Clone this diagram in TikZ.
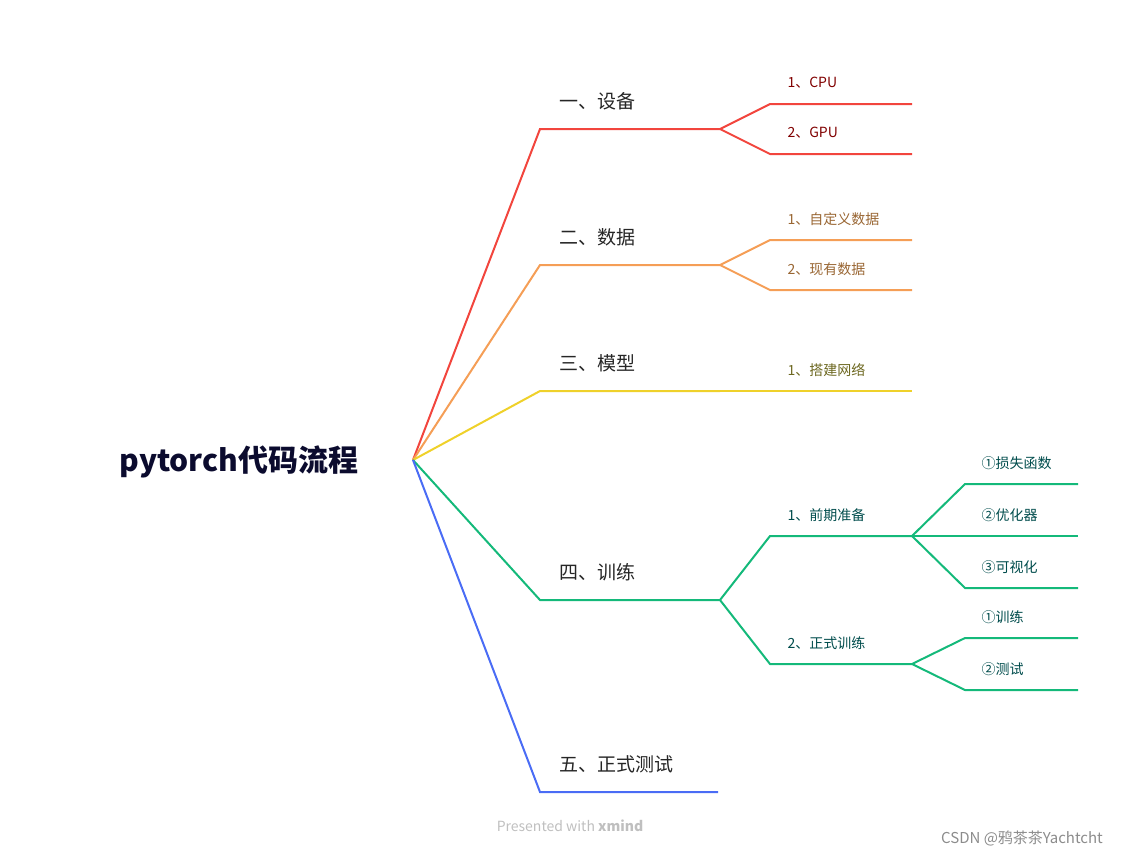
\documentclass[tikz,border=0pt]{standalone}
\usepackage{fontspec}
\setmainfont{Noto Sans CJK SC}
\definecolor{cred}{HTML}{F2453D}
\definecolor{corange}{HTML}{F59E56}
\definecolor{cyellow}{HTML}{EFD12A}
\definecolor{cgreen}{HTML}{14B97A}
\definecolor{cblue}{HTML}{4A6CF5}
\definecolor{troot}{HTML}{0B0B2E}
\begin{document}
\begin{tikzpicture}[x=1pt,y=-1pt,
  br/.style={line width=2pt},
  l1/.style={anchor=west,font=\fontsize{19}{20}\selectfont,text=black!85},
  l2/.style={anchor=west,font=\fontsize{14}{16}\selectfont},
  curve/.style={to path={.. controls ($(\tikztostart)!0.5!(\tikztotarget)$ |- \tikztostart) and ($(\tikztostart)!0.5!(\tikztotarget)$ |- \tikztotarget) .. (\tikztotarget)}}]
\usetikzlibrary{calc}
\useasboundingbox (0,0) rectangle (1142,857);
\node[font=\fontsize{30}{32}\selectfont\bfseries,text=troot] (root) at (239,462) {pytorch代码流程};
\coordinate (r) at (413,460);
% level 1
\foreach \n/\y/\c/\t in {a/129/cred/一、设备, b/265/corange/二、数据, c/391/cyellow/三、模型, d/600/cgreen/四、训练}{
  \coordinate (\n s) at (540,\y); \coordinate (\n e) at (720,\y);
  \draw[br,\c] (r) to[curve] (\n s) -- (\n e);
  \node[l1] (\n t) at (556,\y-28) {\t};
}
\coordinate (es) at (540,792); \coordinate (ee) at (718,792);
\draw[br,cblue] (r) to[curve] (es) -- (ee);
\node[l1] (et) at (556,764) {五、正式测试};
% level 2
\foreach \p/\n/\y/\c/\tc/\t in {a/a1/104/cred/red!50!black/1、CPU, a/a2/154/cred/red!50!black/2、GPU,
  b/b1/240/corange/brown!80!black/1、自定义数据, b/b2/290/corange/brown!80!black/2、现有数据,
  c/c1/391/cyellow/olive!70!black/1、搭建网络,
  d/d1/536/cgreen/teal!60!black/1、前期准备, d/d2/664/cgreen/teal!60!black/2、正式训练}{
  \coordinate (\n s) at (770,\y); \coordinate (\n e) at (912,\y);
  \draw[br,\c] (\p e) to[curve] (\n s) -- (\n e);
  \node[l2,text=\tc] (\n t) at (784,\y-21) {\t};
}
% level 3
\foreach \p/\n/\y/\t in {d1/x1/484/①损失函数, d1/x2/536/②优化器, d1/x3/588/③可视化, d2/y1/638/①训练, d2/y2/690/②测试}{
  \coordinate (\n s) at (965,\y); \coordinate (\n e) at (1078,\y);
  \draw[br,cgreen] (\p e) to[curve] (\n s) -- (\n e);
  \node[l2,text=teal!60!black] (\n t) at (978,\y-21) {\t};
}
\node[text=black!25,font=\fontsize{14}{16}\selectfont] (foot) at (570,826) {Presented with \textbf{xmind}};
\node[text=black!45,font=\fontsize{15}{16}\selectfont] (csdn) at (1022,838) {CSDN @鸦茶茶Yachtcht};
\end{tikzpicture}
\end{document}
